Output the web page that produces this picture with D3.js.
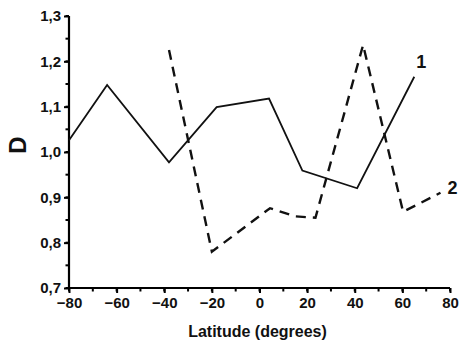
<!DOCTYPE html>
<html>
<head>
<meta charset="utf-8">
<script src="https://cdn.jsdelivr.net/npm/d3@7"></script>
<style>
  html, body { margin: 0; padding: 0; background: #fff; }
  svg { display: block; font-family: "Liberation Sans", Arial, sans-serif; }
</style>
</head>
<body>
<script>
// Fractal dimension D against latitude, two series
const lat1 = [-80, -64, -38, -18, 4, 18, 41, 65];
const d1   = [1.026, 1.148, 0.977, 1.099, 1.118, 0.959, 0.920, 1.166];

const lat2 = [-38, -20, 4.4, 15, 23.5, 43.5, 60.3, 76];
const d2   = [1.225, 0.780, 0.876, 0.858, 0.855, 1.236, 0.868, 0.910];

const xTicks = [-80, -60, -40, -20, 0, 20, 40, 60, 80];
const yTicks = [0.7, 0.8, 0.9, 1.0, 1.1, 1.2, 1.3];
const seriesLabels = ["1", "2"];

const W = 474, H = 350;
const m = { left: 69, right: 24, top: 16, bottom: 62 };

const svg = d3.select("body").append("svg").attr("width", W).attr("height", H);

const x = d3.scaleLinear().domain([-80, 80]).range([m.left, W - m.right]);
const y = d3.scaleLinear().domain([0.7, 1.3]).range([H - m.bottom, m.top]);

const fmt = v => d3.format(".1f")(v).replace(".", ",");

// minor ticks
const xMinor = d3.range(-80, 81, 10);
const yMinor = d3.range(0.7, 1.3001, 0.05);

const gx = svg.append("g").attr("transform", `translate(0,${y(0.7)})`);
gx.selectAll("line.minor").data(xMinor).join("line")
  .attr("x1", d => x(d)).attr("x2", d => x(d)).attr("y1", 0).attr("y2", 3.5)
  .attr("stroke", "#000").attr("stroke-width", 2);
gx.call(d3.axisBottom(x).tickValues(xTicks).tickSize(5).tickPadding(4).tickFormat(d3.format("d")))
  .call(g => g.select(".domain").attr("stroke-width", 2.2).attr("d", `M${x(-80)},0H${x(80)}`))
  .call(g => g.selectAll(".tick line").attr("stroke-width", 2))
  .call(g => g.selectAll(".tick text").attr("font-size", 15).attr("font-weight", "bold")
    .attr("font-family", "Liberation Sans, Arial, sans-serif").attr("fill", "#111"));

const gy = svg.append("g").attr("transform", `translate(${x(-80)},0)`);
gy.selectAll("line.minor").data(yMinor).join("line")
  .attr("x1", 0).attr("x2", -3.5).attr("y1", d => y(d)).attr("y2", d => y(d))
  .attr("stroke", "#000").attr("stroke-width", 2);
gy.call(d3.axisLeft(y).tickValues(yTicks).tickSize(5).tickPadding(3).tickFormat(fmt))
  .call(g => g.select(".domain").attr("stroke-width", 2.2).attr("d", `M0,${y(0.7)}V${y(1.3)}`))
  .call(g => g.selectAll(".tick line").attr("stroke-width", 2))
  .call(g => g.selectAll(".tick text").attr("font-size", 15).attr("font-weight", "bold")
    .attr("font-family", "Liberation Sans, Arial, sans-serif").attr("fill", "#111"));

// axis titles
svg.append("text")
  .attr("x", (x(-80) + x(80)) / 2 - 2).attr("y", 337)
  .attr("text-anchor", "middle").attr("font-size", 16).attr("font-weight", "bold")
  .attr("fill", "#111").text("Latitude (degrees)");

svg.append("text")
  .attr("transform", `translate(26,145) rotate(-90)`)
  .attr("text-anchor", "middle").attr("font-size", 24).attr("font-weight", "bold")
  .attr("fill", "#111").text("D");

// series
const line = d3.line().x(d => x(d[0])).y(d => y(d[1]));

svg.append("path")
  .datum(d3.zip(lat1, d1))
  .attr("d", line).attr("fill", "none")
  .attr("stroke", "#111").attr("stroke-width", 1.8).attr("stroke-linejoin", "miter");

svg.append("path")
  .datum(d3.zip(lat2, d2))
  .attr("d", line).attr("fill", "none")
  .attr("stroke", "#111").attr("stroke-width", 2.4).attr("stroke-dasharray", "10,7");

// series labels
svg.append("text")
  .attr("x", x(lat1[lat1.length - 1]) + 2).attr("y", y(d1[d1.length - 1]) - 9)
  .attr("font-size", 18).attr("font-weight", "bold").attr("fill", "#111")
  .text(seriesLabels[0]);

svg.append("text")
  .attr("x", x(lat2[lat2.length - 1]) + 7).attr("y", y(d2[d2.length - 1]) + 1)
  .attr("font-size", 18).attr("font-weight", "bold").attr("fill", "#111")
  .text(seriesLabels[1]);
</script>
</body>
</html>
